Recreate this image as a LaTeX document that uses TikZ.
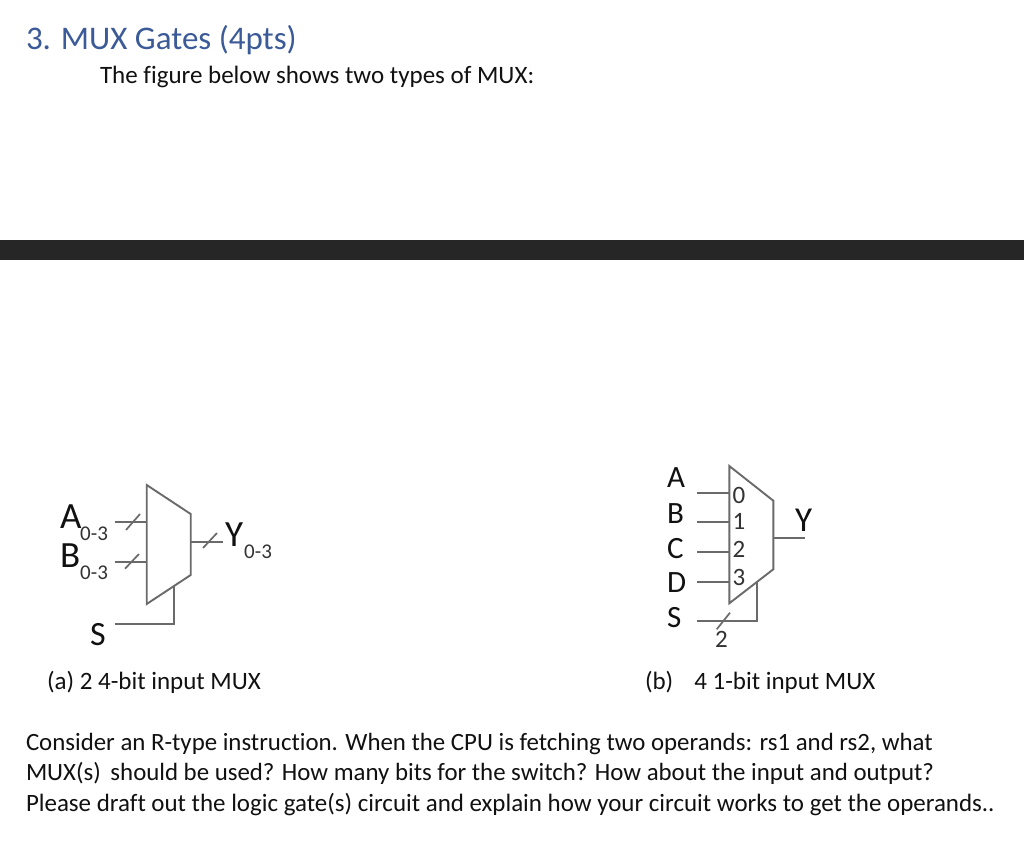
\documentclass[tikz,border=0pt]{standalone}
\usepackage{fontspec}
\setmainfont{Carlito}[Ligatures=CommonOff]
\newcommand{\fs}[1]{\fontsize{#1}{#1}\selectfont}
\definecolor{titleblue}{HTML}{3B5A98}
\definecolor{wire}{HTML}{6A6A6A}
\definecolor{barcol}{HTML}{262626}
\definecolor{ink}{HTML}{111111}
\definecolor{sublab}{HTML}{333333}
\tikzset{
  txt/.style={inner sep=0pt,outer sep=0pt,anchor=base west,text=ink},
  body/.style={txt,font=\fs{24.85}},
  captext/.style={txt,font=\fs{25}},
  biglab/.style={inner sep=0pt,anchor=base west,text=ink,font=\fs{37}},
  sub/.style={inner sep=0pt,anchor=base west,text=sublab,font=\fs{21}},
  num/.style={inner sep=0pt,anchor=base west,text=sublab,font=\fs{25}},
  wireline/.style={draw=wire,line width=1.7pt},
  muxbody/.style={draw=wire,line width=1.9pt,line join=miter},
}
\begin{document}
\begin{tikzpicture}[x=1pt,y=-1pt]
\useasboundingbox (0,0) rectangle (1024,845);
\fill[white] (0,0) rectangle (1024,845);
\fill[barcol] (0,240) rectangle (1024,260);

\node[txt,text=titleblue,font=\fs{33}] (title) at (26,50) {3. MUX Gates (4pts)};
\node[txt,font=\fs{25}] (intro) at (100,84) {The figure below shows two types of MUX:};

% MUX a
\coordinate (a1) at (146.7,485);
\coordinate (a2) at (190.7,514);
\coordinate (a3) at (190.7,575);
\coordinate (a4) at (146.7,604);
\coordinate (aA0) at (114.7,522);
\coordinate (aA1) at (146.7,522);
\coordinate (aB0) at (114.7,561.7);
\coordinate (aB1) at (146.7,561.7);
\coordinate (aY0) at (190.7,542);
\coordinate (aY1) at (223,542);
\coordinate (aS0) at (114.7,624.3);
\coordinate (aSc) at (174,624.3);
\coordinate (aS1) at (174,586);
\draw[wireline] (aA0) -- (aA1);
\draw[wireline] (aB0) -- (aB1);
\draw[wireline] (aY0) -- (aY1);
\draw[wireline] (aS0) -- (aSc) -- (aS1);
\draw[wireline] (126,530) -- (140,514);
\draw[wireline] (125,568.7) -- (139,554);
\draw[wireline] (203,548) -- (217,533);
\draw[muxbody] (a1) -- (a2) -- (a3) -- (a4) -- cycle;
\node[biglab] (lA) at (60,528) {A};
\node[sub] (lA0) at (80,540) {0-3};
\node[biglab] (lB) at (60,567) {B};
\node[sub] (lB0) at (80,579) {0-3};
\node[biglab] (lY) at (225,546) {Y};
\node[sub] (lY0) at (244,558.5) {0-3};
\node[txt,font=\fs{34}] (lS) at (90,645) {S};
\node[captext] (capa) at (47,689) {(a) 2 4-bit input MUX};

% MUX b
\coordinate (b1) at (729.3,466);
\coordinate (b2) at (773.3,500.7);
\coordinate (b3) at (773.3,569.3);
\coordinate (b4) at (729.3,603.3);
\coordinate (bA0) at (697.3,492.7);
\coordinate (bA1) at (729.3,492.7);
\coordinate (bB0) at (697.3,522.3);
\coordinate (bB1) at (729.3,522.3);
\coordinate (bC0) at (697.3,551.7);
\coordinate (bC1) at (729.3,551.7);
\coordinate (bD0) at (697.3,581.7);
\coordinate (bD1) at (729.3,581.7);
\coordinate (bY0) at (773.3,538);
\coordinate (bY1) at (805,538);
\coordinate (bS0) at (697.3,620.7);
\coordinate (bSc) at (756.7,620.7);
\coordinate (bS1) at (756.7,581.7);
\draw[wireline] (bA0) -- (bA1);
\draw[wireline] (bB0) -- (bB1);
\draw[wireline] (bC0) -- (bC1);
\draw[wireline] (bD0) -- (bD1);
\draw[wireline] (bY0) -- (bY1);
\draw[wireline] (bS0) -- (bSc) -- (bS1);
\draw[wireline] (730,612.7) -- (716.7,629.3);
\draw[muxbody] (b1) -- (b2) -- (b3) -- (b4) -- cycle;
\foreach \n/\l/\yy in {a/A/487,b/B/523,c/C/558,d/D/592,s/S/627}{
  \node[txt,font=\fs{31}] (bl\n) at (667,\yy) {\l};
}
\node[num] (n0) at (732.5,503) {0};
\node[num] (n1) at (732.5,529) {1};
\node[num] (n2) at (732.5,557) {2};
\node[num] (n3) at (732.5,585) {3};
\node[txt,font=\fs{35}] (bY) at (795,531.5) {Y};
\node[num] (n2b) at (715,647) {2};
\node[captext] (capb) at (645,689) {(b)\hspace{21pt}4 1-bit input MUX};

\node[body] (l1) at (26,750) {Consider an R-type instruction. When the CPU is fetching two operands: rs1 and rs2, what};
\node[body] (l2) at (26,780) {MUX(s)\hspace{4pt} should be used? How many bits for the switch? How about the input and output?};
\node[txt,font=\fs{24.95}] (l3) at (26,811) {Please draft out the logic gate(s) circuit and explain how your circuit works to get the operands..};
\end{tikzpicture}
\end{document}
